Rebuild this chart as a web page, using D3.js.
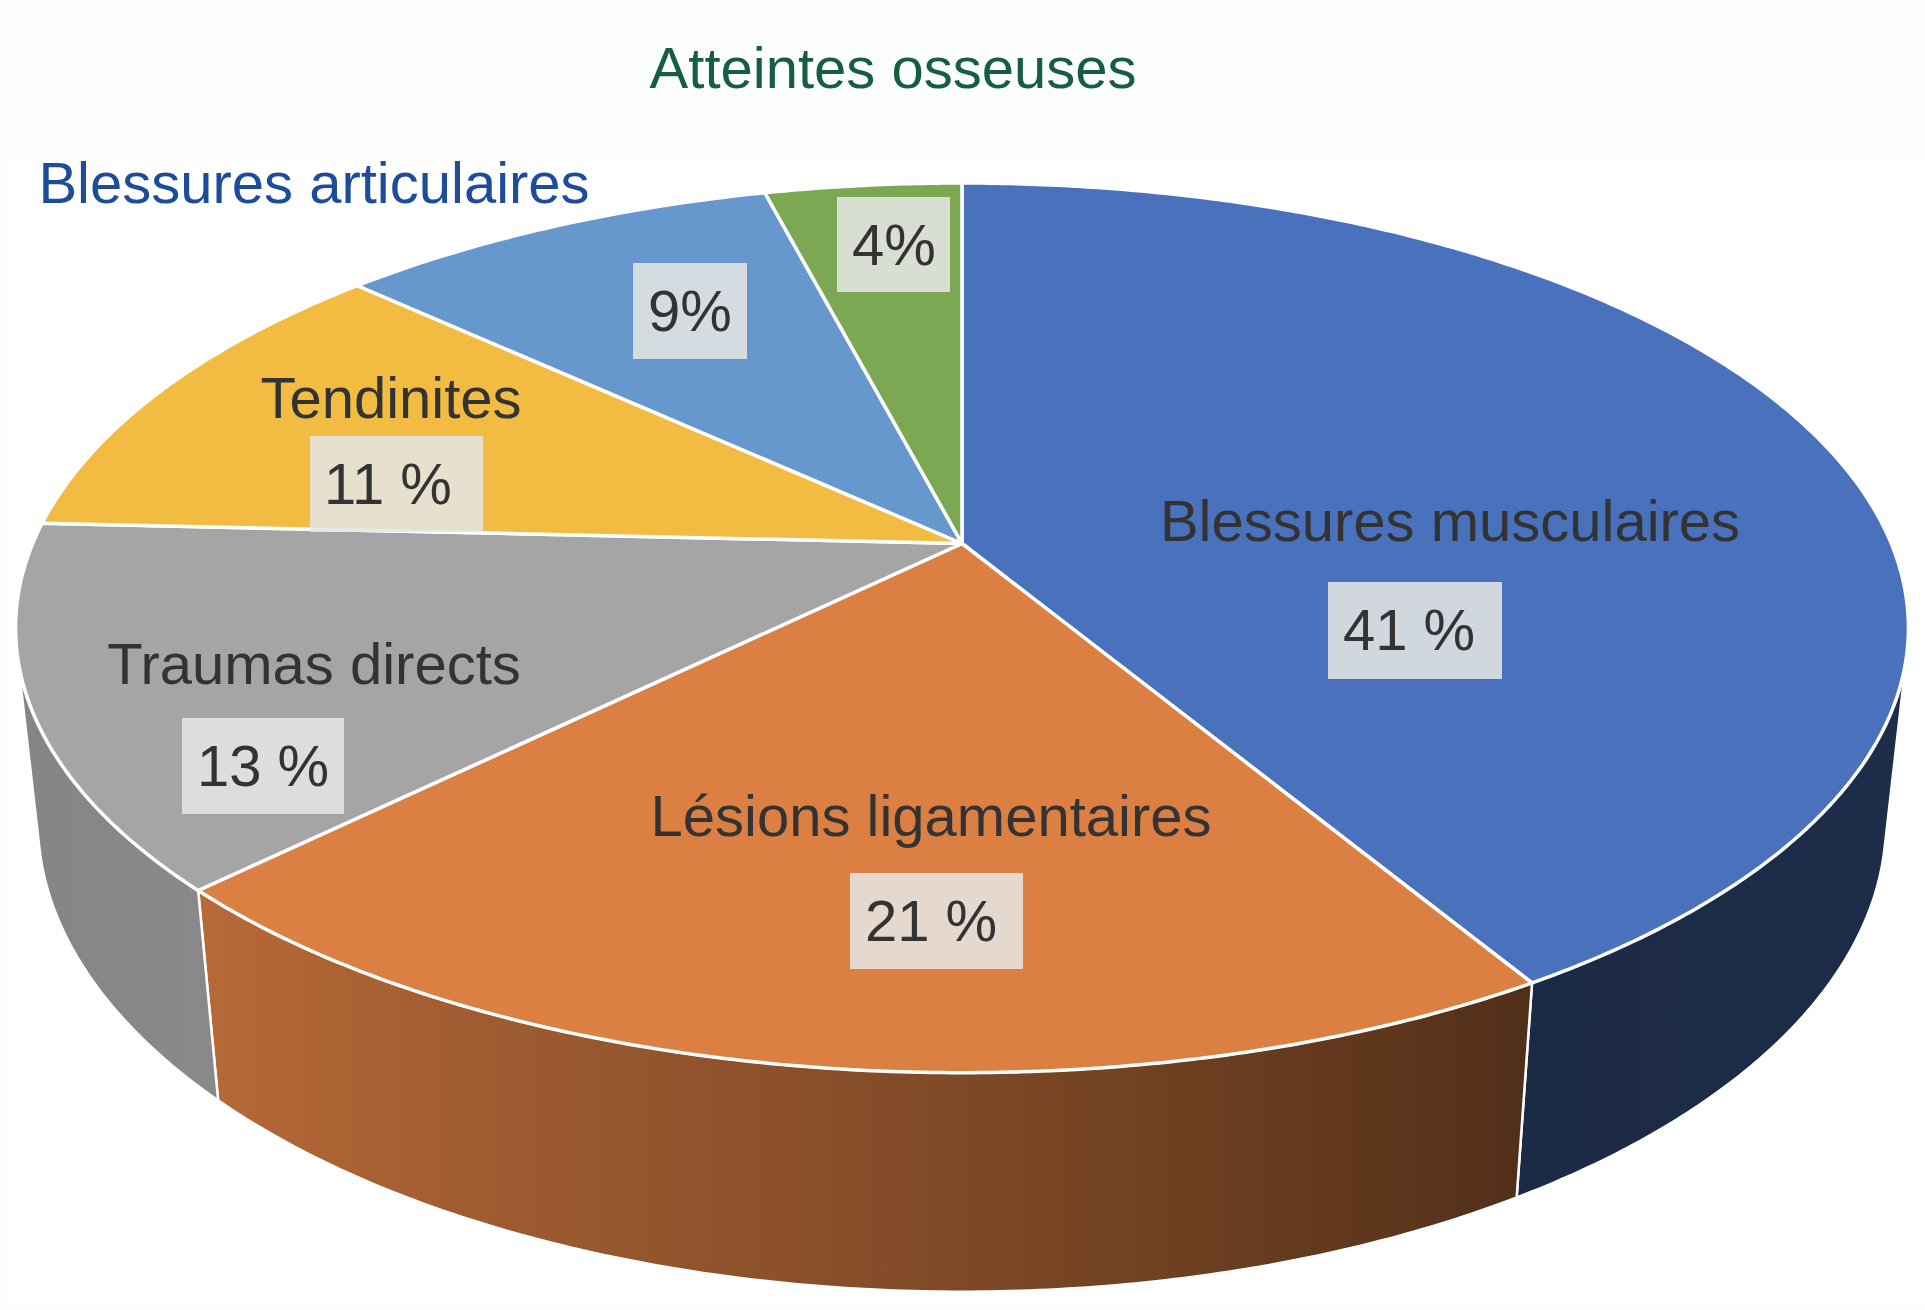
<!DOCTYPE html>
<html>
<head>
<meta charset="utf-8">
<script src="https://cdn.jsdelivr.net/npm/d3@7"></script>
<style>
  body { margin: 0; background: #fcfdfe; }
  svg { display: block; }
  text { font-family: "Liberation Sans", Arial, sans-serif; }
</style>
</head>
<body>
<div id="chart"></div>
<script>
// data (the labels are rounded, slices follow the raw values)
const categories = ["Blessures musculaires", "Lésions ligamentaires", "Traumas directs",
                    "Tendinites", "Blessures articulaires", "Atteintes osseuses"]
const values = [41, 21, 13, 11, 9, 4]
const valueLabels = ["41 %", "21 %", "13 %", "11 %", "9%", "4%"]

// slice colours (top faces)
const sliceColors = ["#4a71bb", "#dc7f43", "#a5a5a5", "#f1bc41", "#6798cd", "#7da853"]

// where the text sits, hand placed like in the original
const labelLayout = [
  { nameX: 1450, nameY: 541, nameColor: "#333333", box: [1328, 582, 174, 97], valueX: 1409 },
  { nameX: 931,  nameY: 836, nameColor: "#333333", box: [850, 873, 173, 96],  valueX: 931 },
  { nameX: 314,  nameY: 684, nameColor: "#333333", box: [182, 718, 162, 96],  valueX: 263 },
  { nameX: 391,  nameY: 418, nameColor: "#333333", box: [310, 436, 173, 96],  valueX: 388 },
  { nameX: 314,  nameY: 203, nameColor: "#1d4c9b", box: [633, 263, 114, 96],  valueX: 690 },
  { nameX: 893,  nameY: 88,  nameColor: "#175e3f", box: [837, 197, 113, 95],  valueX: 894 }
]

const W = 1925, H = 1310

// perspective camera for the 3d pie
var cam = {
  cx: 962, cy: 543.5,   // screen position of the pie centre
  f: 4348,              // focal length
  dist: 4.679,          // camera distance (pie radius = 1)
  sin: 0.4615, cos: 0.8871,  // tilt
  thick: 0.2365         // pie height
}

function project(theta, r, h) {
  var X = r * Math.sin(theta), Z = r * Math.cos(theta)
  var yp = h * cam.cos + Z * cam.sin
  var zp = -h * cam.sin + Z * cam.cos
  var w = cam.dist + zp
  return [cam.cx + cam.f * X / w, cam.cy - cam.f * yp / w]
}

function arcPoints(a0, a1, h) {
  var n = Math.max(2, Math.ceil(Math.abs(a1 - a0) / (Math.PI / 360)))
  return d3.range(n + 1).map(i => project(a0 + (a1 - a0) * i / n, 1, h))
}

// side wall only faces the camera between these angles
var visLimit = Math.acos(-1 / (cam.dist * cam.cos))
var vis0 = visLimit, vis1 = 2 * Math.PI - visLimit

// shading of the side wall, by angle in degrees
var shade = d3.scaleLinear()
  .domain([100, 149, 187, 225, 260])
  .range([0.40, 0.37, 0.62, 0.83, 0.80])
  .clamp(true)

var svg = d3.select("#chart").append("svg")
  .attr("width", W)
  .attr("height", H)

svg.append("rect")
  .attr("x", 8).attr("y", 160)
  .attr("width", W - 8).attr("height", H - 164)
  .attr("fill", "#ffffff")

var defs = svg.append("defs")

var pie = d3.pie().sort(null).value(d => d)
var arcs = pie(values)

var line = d3.line()

// WALLS
var wallGroup = svg.append("g")
arcs.forEach(function(a, i) {
  var b0 = Math.max(a.startAngle, vis0), b1 = Math.min(a.endAngle, vis1)
  if (b1 <= b0) return
  var top = arcPoints(b0, b1, 0)
  var bottom = arcPoints(b1, b0, -cam.thick)
  var x1 = project(b0, 1, -cam.thick / 2)[0], x2 = project(b1, 1, -cam.thick / 2)[0]
  var grad = defs.append("linearGradient")
    .attr("id", "wall" + i)
    .attr("gradientUnits", "userSpaceOnUse")
    .attr("x1", x1).attr("x2", x2).attr("y1", 0).attr("y2", 0)
  var base = d3.rgb(sliceColors[i])
  d3.range(9).forEach(function(k) {
    var t = b0 + (b1 - b0) * k / 8
    var px = project(t, 1, -cam.thick / 2)[0]
    var s = shade(t * 180 / Math.PI)
    grad.append("stop")
      .attr("offset", (px - x1) / (x2 - x1))
      .attr("stop-color", d3.rgb(base.r * s, base.g * s, base.b * s))
  })
  wallGroup.append("path")
    .attr("d", line(top.concat(bottom)) + "Z")
    .attr("fill", "url(#wall" + i + ")")
    .attr("stroke", "#ffffff")
    .attr("stroke-width", 2.5)
    .attr("stroke-linejoin", "round")
})

// TOP FACES
var topGroup = svg.append("g")
arcs.forEach(function(a, i) {
  var pts = [project(0, 0, 0)].concat(arcPoints(a.startAngle, a.endAngle, 0))
  topGroup.append("path")
    .attr("d", line(pts) + "Z")
    .attr("fill", sliceColors[i])
    .attr("stroke", "#ffffff")
    .attr("stroke-width", 3.5)
    .attr("stroke-linejoin", "round")
})

// LABELS
var labels = svg.append("g")
categories.forEach(function(name, i) {
  var lay = labelLayout[i]
  labels.append("text")
    .attr("x", lay.nameX)
    .attr("y", lay.nameY)
    .attr("text-anchor", "middle")
    .attr("font-size", 58)
    .attr("fill", lay.nameColor)
    .text(name)

  var b = lay.box
  labels.append("rect")
    .attr("x", b[0]).attr("y", b[1])
    .attr("width", b[2]).attr("height", b[3])
    .attr("fill", "#e6e6e4")
    .attr("fill-opacity", 0.87)
  labels.append("text")
    .attr("x", lay.valueX)
    .attr("y", b[1] + 68)
    .attr("text-anchor", "middle")
    .attr("font-size", 58)
    .attr("fill", "#333333")
    .text(valueLabels[i])
})
</script>
</body>
</html>
